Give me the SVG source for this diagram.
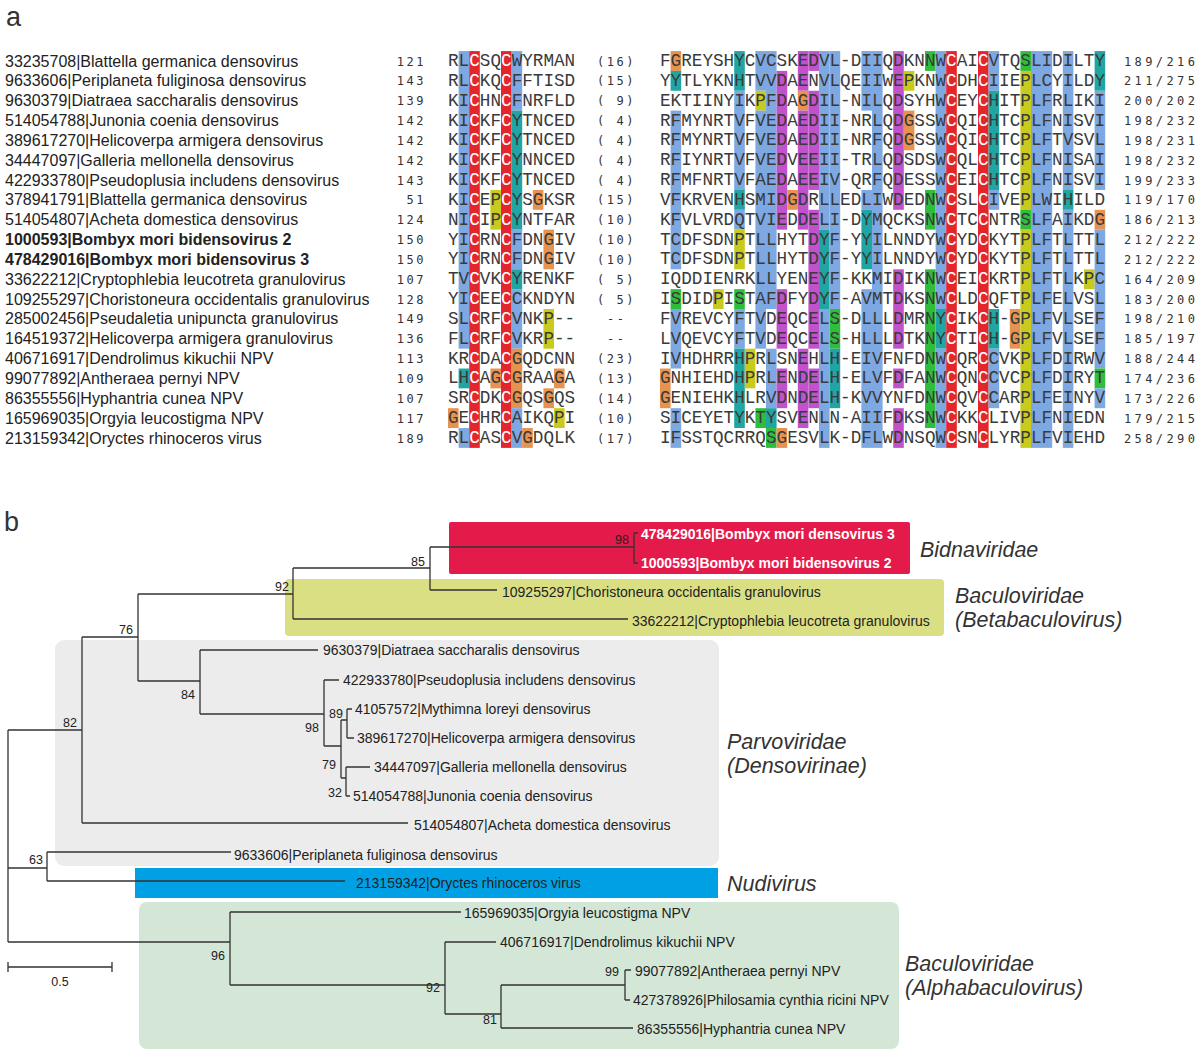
<svg xmlns="http://www.w3.org/2000/svg" width="1200" height="1054" viewBox="0 0 1200 1054">
<style>
.b{fill:#7ea8e2}.r{fill:#e3262b}.m{fill:#c252cc}.g{fill:#2fbe3c}.t{fill:#21a5a3}.o{fill:#e8924f}.y{fill:#c9ca1e}
.nm{font-family:"Liberation Sans",Arial,sans-serif;font-size:16px;fill:#222}
.nb{font-weight:bold}
.sq{font-family:"Liberation Mono","Courier New",monospace;font-size:17.67px;fill:#3a3a3a}
.w{fill:#fff}
.num{font-family:"DejaVu Sans Mono",monospace;font-size:12px;fill:#333;letter-spacing:2.5px}
.end{font-family:"DejaVu Sans Mono",monospace;font-size:12px;fill:#333;letter-spacing:3.4px}
.pl{font-family:"Liberation Sans",Arial,sans-serif;font-size:27px;fill:#333}
.lf{font-family:"Liberation Sans",Arial,sans-serif;font-size:14px;fill:#222}
.lw{font-family:"Liberation Sans",Arial,sans-serif;font-size:14px;fill:#fff;font-weight:bold}
.bs{font-family:"Liberation Sans",Arial,sans-serif;font-size:12.5px;fill:#222;text-anchor:middle}
.cl{font-family:"Liberation Sans",Arial,sans-serif;font-size:21.5px;fill:#333;font-style:italic}
.ln{fill:none;stroke:#333;stroke-width:1.3}
</style>
<text class="pl" x="6" y="26">a</text>
<text class="pl" x="4" y="531">b</text>

<g id="block1-highlights" transform="translate(448,51.08) scale(10.6,19.84)">
<rect class="o" x="0" y="18" width="1" height="1"/>
<rect class="b" x="1" y="0" width="1" height="15"/>
<rect class="t" x="1" y="16" width="1" height="1"/>
<rect class="b" x="1" y="19" width="1" height="1"/>
<rect class="r" x="2" y="0" width="1" height="20"/>
<rect class="y" x="4" y="7" width="1" height="2"/>
<rect class="o" x="4" y="16" width="1" height="1"/>
<rect class="r" x="5" y="0" width="1" height="20"/>
<rect class="b" x="6" y="0" width="1" height="3"/>
<rect class="t" x="6" y="3" width="1" height="6"/>
<rect class="b" x="6" y="9" width="1" height="2"/>
<rect class="t" x="6" y="11" width="1" height="1"/>
<rect class="b" x="6" y="12" width="1" height="3"/>
<rect class="o" x="6" y="15" width="1" height="3"/>
<rect class="b" x="6" y="18" width="1" height="2"/>
<rect class="o" x="7" y="19" width="1" height="1"/>
<rect class="o" x="8" y="7" width="1" height="1"/>
<rect class="o" x="9" y="9" width="1" height="2"/>
<rect class="y" x="9" y="13" width="1" height="2"/>
<rect class="o" x="9" y="17" width="1" height="1"/>
<rect class="o" x="10" y="16" width="1" height="1"/>
<rect class="y" x="10" y="18" width="1" height="1"/>
</g>

<g id="block2-highlights" transform="translate(660,51.08) scale(10.6,19.84)">
<rect class="o" x="0" y="16" width="1" height="2"/>
<rect class="o" x="1" y="0" width="1" height="1"/>
<rect class="t" x="1" y="1" width="1" height="1"/>
<rect class="b" x="1" y="3" width="1" height="8"/>
<rect class="g" x="1" y="12" width="1" height="1"/>
<rect class="b" x="1" y="13" width="1" height="3"/>
<rect class="b" x="1" y="18" width="1" height="2"/>
<rect class="y" x="5" y="12" width="1" height="1"/>
<rect class="t" x="7" y="0" width="1" height="2"/>
<rect class="b" x="7" y="2" width="1" height="5"/>
<rect class="t" x="7" y="7" width="1" height="1"/>
<rect class="b" x="7" y="8" width="1" height="1"/>
<rect class="y" x="7" y="9" width="1" height="2"/>
<rect class="g" x="7" y="12" width="1" height="1"/>
<rect class="b" x="7" y="13" width="1" height="2"/>
<rect class="t" x="7" y="15" width="1" height="4"/>
<rect class="y" x="8" y="15" width="1" height="2"/>
<rect class="b" x="9" y="0" width="1" height="2"/>
<rect class="y" x="9" y="2" width="1" height="1"/>
<rect class="b" x="9" y="3" width="1" height="12"/>
<rect class="g" x="9" y="18" width="1" height="1"/>
<rect class="b" x="10" y="0" width="1" height="13"/>
<rect class="b" x="10" y="15" width="1" height="3"/>
<rect class="t" x="10" y="18" width="1" height="1"/>
<rect class="g" x="10" y="19" width="1" height="1"/>
<rect class="m" x="11" y="1" width="1" height="8"/>
<rect class="m" x="11" y="12" width="1" height="3"/>
<rect class="m" x="11" y="16" width="1" height="2"/>
<rect class="o" x="11" y="19" width="1" height="1"/>
<rect class="o" x="12" y="7" width="1" height="1"/>
<rect class="m" x="13" y="0" width="1" height="2"/>
<rect class="o" x="13" y="2" width="1" height="1"/>
<rect class="m" x="13" y="3" width="1" height="6"/>
<rect class="m" x="13" y="15" width="1" height="4"/>
<rect class="m" x="14" y="0" width="1" height="1"/>
<rect class="m" x="14" y="2" width="1" height="5"/>
<rect class="m" x="14" y="8" width="1" height="7"/>
<rect class="m" x="14" y="16" width="1" height="2"/>
<rect class="b" x="15" y="0" width="1" height="9"/>
<rect class="t" x="15" y="9" width="1" height="4"/>
<rect class="b" x="15" y="13" width="1" height="7"/>
<rect class="b" x="16" y="0" width="1" height="13"/>
<rect class="g" x="16" y="13" width="1" height="2"/>
<rect class="t" x="16" y="15" width="1" height="3"/>
<rect class="b" x="19" y="0" width="1" height="3"/>
<rect class="b" x="19" y="7" width="1" height="1"/>
<rect class="t" x="19" y="8" width="1" height="3"/>
<rect class="b" x="19" y="12" width="1" height="8"/>
<rect class="b" x="20" y="0" width="1" height="20"/>
<rect class="m" x="22" y="0" width="1" height="8"/>
<rect class="m" x="22" y="11" width="1" height="4"/>
<rect class="m" x="22" y="16" width="1" height="1"/>
<rect class="m" x="22" y="18" width="1" height="2"/>
<rect class="y" x="23" y="1" width="1" height="1"/>
<rect class="o" x="23" y="3" width="1" height="2"/>
<rect class="g" x="25" y="0" width="1" height="1"/>
<rect class="g" x="25" y="7" width="1" height="2"/>
<rect class="g" x="25" y="11" width="1" height="8"/>
<rect class="b" x="26" y="0" width="1" height="13"/>
<rect class="t" x="26" y="13" width="1" height="2"/>
<rect class="b" x="26" y="15" width="1" height="5"/>
<rect class="r" x="27" y="0" width="1" height="20"/>
<rect class="r" x="30" y="0" width="1" height="20"/>
<rect class="b" x="31" y="0" width="1" height="2"/>
<rect class="t" x="31" y="2" width="1" height="5"/>
<rect class="b" x="31" y="7" width="1" height="1"/>
<rect class="t" x="31" y="13" width="1" height="2"/>
<rect class="b" x="31" y="15" width="1" height="3"/>
<rect class="o" x="33" y="13" width="1" height="2"/>
<rect class="g" x="34" y="0" width="1" height="1"/>
<rect class="y" x="34" y="1" width="1" height="7"/>
<rect class="g" x="34" y="8" width="1" height="1"/>
<rect class="y" x="34" y="9" width="1" height="11"/>
<rect class="b" x="35" y="0" width="2" height="20"/>
<rect class="b" x="38" y="0" width="1" height="7"/>
<rect class="t" x="38" y="7" width="1" height="1"/>
<rect class="b" x="38" y="8" width="1" height="12"/>
<rect class="y" x="40" y="11" width="1" height="1"/>
<rect class="t" x="41" y="0" width="1" height="2"/>
<rect class="b" x="41" y="2" width="1" height="5"/>
<rect class="o" x="41" y="8" width="1" height="1"/>
<rect class="b" x="41" y="9" width="1" height="7"/>
<rect class="g" x="41" y="16" width="1" height="1"/>
<rect class="b" x="41" y="17" width="1" height="1"/>
</g>

<g id="alignment-names">
<text class="nm" x="5" y="66.5">33235708|Blattella germanica densovirus</text>
<text class="nm" x="5" y="86.3">9633606|Periplaneta fuliginosa densovirus</text>
<text class="nm" x="5" y="106.2">9630379|Diatraea saccharalis densovirus</text>
<text class="nm" x="5" y="126">514054788|Junonia coenia densovirus</text>
<text class="nm" x="5" y="145.9">389617270|Helicoverpa armigera densovirus</text>
<text class="nm" x="5" y="165.7">34447097|Galleria mellonella densovirus</text>
<text class="nm" x="5" y="185.5">422933780|Pseudoplusia includens densovirus</text>
<text class="nm" x="5" y="205.4">378941791|Blattella germanica densovirus</text>
<text class="nm" x="5" y="225.2">514054807|Acheta domestica densovirus</text>
<text class="nm nb" x="5" y="245.1">1000593|Bombyx mori bidensovirus 2</text>
<text class="nm nb" x="5" y="264.9">478429016|Bombyx mori bidensovirus 3</text>
<text class="nm" x="5" y="284.7">33622212|Cryptophlebia leucotreta granulovirus</text>
<text class="nm" x="5" y="304.6">109255297|Choristoneura occidentalis granulovirus</text>
<text class="nm" x="5" y="324.4">285002456|Pseudaletia unipuncta granulovirus</text>
<text class="nm" x="5" y="344.3">164519372|Helicoverpa armigera granulovirus</text>
<text class="nm" x="5" y="364.1">406716917|Dendrolimus kikuchii NPV</text>
<text class="nm" x="5" y="383.9">99077892|Antheraea pernyi NPV</text>
<text class="nm" x="5" y="403.8">86355556|Hyphantria cunea NPV</text>
<text class="nm" x="5" y="423.6">165969035|Orgyia leucostigma NPV</text>
<text class="nm" x="5" y="443.5">213159342|Oryctes rhinoceros virus</text>
</g>

<g id="alignment-start" text-anchor="end">
<text class="num" x="426" y="65.5">121</text>
<text class="num" x="426" y="85.3">143</text>
<text class="num" x="426" y="105.2">139</text>
<text class="num" x="426" y="125">142</text>
<text class="num" x="426" y="144.9">142</text>
<text class="num" x="426" y="164.7">142</text>
<text class="num" x="426" y="184.5">143</text>
<text class="num" x="426" y="204.4">51</text>
<text class="num" x="426" y="224.2">124</text>
<text class="num" x="426" y="244.1">150</text>
<text class="num" x="426" y="263.9">150</text>
<text class="num" x="426" y="283.7">107</text>
<text class="num" x="426" y="303.6">128</text>
<text class="num" x="426" y="323.4">149</text>
<text class="num" x="426" y="343.3">136</text>
<text class="num" x="426" y="363.1">113</text>
<text class="num" x="426" y="382.9">109</text>
<text class="num" x="426" y="402.8">107</text>
<text class="num" x="426" y="422.6">117</text>
<text class="num" x="426" y="442.5">189</text>
</g>

<g id="alignment-block1">
<text class="sq" x="448" y="66">RL<tspan class="w">C</tspan>SQ<tspan class="w">C</tspan>WYRMAN</text>
<text class="sq" x="448" y="85.8">RL<tspan class="w">C</tspan>KQ<tspan class="w">C</tspan>FFTISD</text>
<text class="sq" x="448" y="105.7">KI<tspan class="w">C</tspan>HN<tspan class="w">C</tspan>FNRFLD</text>
<text class="sq" x="448" y="125.5">KI<tspan class="w">C</tspan>KF<tspan class="w">C</tspan>YTNCED</text>
<text class="sq" x="448" y="145.4">KI<tspan class="w">C</tspan>KF<tspan class="w">C</tspan>YTNCED</text>
<text class="sq" x="448" y="165.2">KI<tspan class="w">C</tspan>KF<tspan class="w">C</tspan>YNNCED</text>
<text class="sq" x="448" y="185">KI<tspan class="w">C</tspan>KF<tspan class="w">C</tspan>YTNCED</text>
<text class="sq" x="448" y="204.9">KI<tspan class="w">C</tspan>EP<tspan class="w">C</tspan>YSGKSR</text>
<text class="sq" x="448" y="224.7">NI<tspan class="w">C</tspan>IP<tspan class="w">C</tspan>YNTFAR</text>
<text class="sq" x="448" y="244.6">YI<tspan class="w">C</tspan>RN<tspan class="w">C</tspan>FDNGIV</text>
<text class="sq" x="448" y="264.4">YI<tspan class="w">C</tspan>RN<tspan class="w">C</tspan>FDNGIV</text>
<text class="sq" x="448" y="284.2">TV<tspan class="w">C</tspan>VK<tspan class="w">C</tspan>YRENKF</text>
<text class="sq" x="448" y="304.1">YI<tspan class="w">C</tspan>EE<tspan class="w">C</tspan>CKNDYN</text>
<text class="sq" x="448" y="323.9">SL<tspan class="w">C</tspan>RF<tspan class="w">C</tspan>VNKP--</text>
<text class="sq" x="448" y="343.8">FL<tspan class="w">C</tspan>RF<tspan class="w">C</tspan>VKRP--</text>
<text class="sq" x="448" y="363.6">KR<tspan class="w">C</tspan>DA<tspan class="w">C</tspan>GQDCNN</text>
<text class="sq" x="448" y="383.4">LH<tspan class="w">C</tspan>AG<tspan class="w">C</tspan>GRAAGA</text>
<text class="sq" x="448" y="403.3">SR<tspan class="w">C</tspan>DK<tspan class="w">C</tspan>GQSGQS</text>
<text class="sq" x="448" y="423.1">GE<tspan class="w">C</tspan>HR<tspan class="w">C</tspan>AIKQPI</text>
<text class="sq" x="448" y="443">RL<tspan class="w">C</tspan>AS<tspan class="w">C</tspan>VGDQLK</text>
</g>

<g id="alignment-gaps">
<text class="num" x="597" y="65.5">(16)</text>
<text class="num" x="597" y="85.3">(15)</text>
<text class="num" x="597" y="105.2">( 9)</text>
<text class="num" x="597" y="125">( 4)</text>
<text class="num" x="597" y="144.9">( 4)</text>
<text class="num" x="597" y="164.7">( 4)</text>
<text class="num" x="597" y="184.5">( 4)</text>
<text class="num" x="597" y="204.4">(15)</text>
<text class="num" x="597" y="224.2">(10)</text>
<text class="num" x="597" y="244.1">(10)</text>
<text class="num" x="597" y="263.9">(10)</text>
<text class="num" x="597" y="283.7">( 5)</text>
<text class="num" x="597" y="303.6">( 5)</text>
<text class="num" x="607" y="323.4">--</text>
<text class="num" x="607" y="343.3">--</text>
<text class="num" x="597" y="363.1">(23)</text>
<text class="num" x="597" y="382.9">(13)</text>
<text class="num" x="597" y="402.8">(14)</text>
<text class="num" x="597" y="422.6">(10)</text>
<text class="num" x="597" y="442.5">(17)</text>
</g>

<g id="alignment-block2">
<text class="sq" x="660" y="66">FGREYSHYCVCSKEDVL-DIIQDKNNW<tspan class="w">C</tspan>AI<tspan class="w">C</tspan>VTQSLIDILTY</text>
<text class="sq" x="660" y="85.8">YYTLYKNHTVVDAENVLQEIIWEPKNW<tspan class="w">C</tspan>DH<tspan class="w">C</tspan>IIEPLCYILDY</text>
<text class="sq" x="660" y="105.7">EKTIINYIKPFDAGDIL-NILQDSYHW<tspan class="w">C</tspan>EY<tspan class="w">C</tspan>HITPLFRLIKI</text>
<text class="sq" x="660" y="125.5">RFMYNRTVFVEDAEDII-NRLQDGSSW<tspan class="w">C</tspan>QI<tspan class="w">C</tspan>HTCPLFNISVI</text>
<text class="sq" x="660" y="145.4">RFMYNRTVFVEDAEDII-NRFQDGSSW<tspan class="w">C</tspan>QI<tspan class="w">C</tspan>HTCPLFTVSVL</text>
<text class="sq" x="660" y="165.2">RFIYNRTVFVEDVEEII-TRLQDSDSW<tspan class="w">C</tspan>QL<tspan class="w">C</tspan>HTCPLFNISAI</text>
<text class="sq" x="660" y="185">RFMFNRTVFAEDAEEIV-QRFQDESSW<tspan class="w">C</tspan>EI<tspan class="w">C</tspan>HTCPLFNISVI</text>
<text class="sq" x="660" y="204.9">VFKRVENHSMIDGDRLLEDLIWDEDNW<tspan class="w">C</tspan>SL<tspan class="w">C</tspan>IVEPLWIHILD</text>
<text class="sq" x="660" y="224.7">KFVLVRDQTVIEDDELI-DYMQCKSNW<tspan class="w">C</tspan>TC<tspan class="w">C</tspan>NTRSLFAIKDG</text>
<text class="sq" x="660" y="244.6">TCDFSDNPTLLHYTDYF-YYILNNDYW<tspan class="w">C</tspan>YD<tspan class="w">C</tspan>KYTPLFTLTTL</text>
<text class="sq" x="660" y="264.4">TCDFSDNPTLLHYTDYF-YYILNNDYW<tspan class="w">C</tspan>YD<tspan class="w">C</tspan>KYTPLFTLTTL</text>
<text class="sq" x="660" y="284.2">IQDDIENRKLLYENEYF-KKMIDIKNW<tspan class="w">C</tspan>EI<tspan class="w">C</tspan>KRTPLFTLKPC</text>
<text class="sq" x="660" y="304.1">ISDIDPISTAFDFYDYF-AVMTDKSNW<tspan class="w">C</tspan>LD<tspan class="w">C</tspan>QFTPLFELVSL</text>
<text class="sq" x="660" y="323.9">FVREVCYFTVDEQCELS-DLLLDMRNY<tspan class="w">C</tspan>IK<tspan class="w">C</tspan>H-GPLFVLSEF</text>
<text class="sq" x="660" y="343.8">LVQEVCYFTVDEQCELS-HLLLDTKNY<tspan class="w">C</tspan>TI<tspan class="w">C</tspan>H-GPLFVLSEF</text>
<text class="sq" x="660" y="363.6">IVHDHRRHPRLSNEHLH-EIVFNFDNW<tspan class="w">C</tspan>QR<tspan class="w">C</tspan>CVKPLFDIRWV</text>
<text class="sq" x="660" y="383.4">GNHIEHDHPRLENDELH-ELVFDFANW<tspan class="w">C</tspan>QN<tspan class="w">C</tspan>CVCPLFDIRYT</text>
<text class="sq" x="660" y="403.3">GENIEHKHLRVDNDELH-KVVYNFDNW<tspan class="w">C</tspan>QV<tspan class="w">C</tspan>CARPLFEINYV</text>
<text class="sq" x="660" y="423.1">SICEYETYKTYSVENLN-AIIFDKSNW<tspan class="w">C</tspan>KK<tspan class="w">C</tspan>LIVPLFNIEDN</text>
<text class="sq" x="660" y="443">IFSSTQCRRQSGESVLK-DFLWDNSQW<tspan class="w">C</tspan>SN<tspan class="w">C</tspan>LYRPLFVIEHD</text>
</g>

<g id="alignment-end">
<text class="end" x="1124" y="65.5">189/216</text>
<text class="end" x="1124" y="85.3">211/275</text>
<text class="end" x="1124" y="105.2">200/202</text>
<text class="end" x="1124" y="125">198/232</text>
<text class="end" x="1124" y="144.9">198/231</text>
<text class="end" x="1124" y="164.7">198/232</text>
<text class="end" x="1124" y="184.5">199/233</text>
<text class="end" x="1124" y="204.4">119/170</text>
<text class="end" x="1124" y="224.2">186/213</text>
<text class="end" x="1124" y="244.1">212/222</text>
<text class="end" x="1124" y="263.9">212/222</text>
<text class="end" x="1124" y="283.7">164/209</text>
<text class="end" x="1124" y="303.6">183/200</text>
<text class="end" x="1124" y="323.4">198/210</text>
<text class="end" x="1124" y="343.3">185/197</text>
<text class="end" x="1124" y="363.1">188/244</text>
<text class="end" x="1124" y="382.9">174/236</text>
<text class="end" x="1124" y="402.8">173/226</text>
<text class="end" x="1124" y="422.6">179/215</text>
<text class="end" x="1124" y="442.5">258/290</text>
</g>

<g id="clade-boxes">
<rect id="box-bidna" x="449" y="522" width="461" height="52" rx="2" fill="#e41a4b"/>
<rect id="box-beta" x="285" y="579" width="659" height="57" rx="4" fill="#dadf84"/>
<rect id="box-parvo" x="55" y="640" width="664" height="226" rx="9" fill="#ebeceb"/>
<rect id="box-nudi" x="135" y="868" width="583" height="30" fill="#00a1e4"/>
<rect id="box-alpha" x="139" y="902" width="760" height="147" rx="8" fill="#d4e7d7"/>
</g>

<g id="connectors" class="ln">
<path d="M8,730V942M8,730H82M82,637V823M82,823H408M82,637H138M138,594V681M138,594H293M293,568V619M293,619H628M293,568H430M430,547V590M430,590H497M430,547H634M634,533V563M634,533H638M634,563H638"/>
<path d="M138,681H200M200,650V714M200,650H318M200,714H324M324,680V746M324,680H339M324,746H341M341,720V778M341,720H347M347,709V738M347,709H352M347,738H354M341,778H346M346,767V796M346,767H370M346,796H350"/>
<path d="M8,868H47M47,852V881M47,852H231M47,881H345"/>
<path d="M8,942H230M230,912V985M230,912H461M230,985H445M445,942V1014M445,942H496M445,1014H501M501,985V1028M501,985H625M625,970V1000M625,970H631M625,1000H630M501,1028H633"/>
<path d="M8,967H112M8,962V972M112,962V972"/>
</g>

<g id="bootstrap">
<text class="bs" x="622" y="544">98</text>
<text class="bs" x="418" y="566">85</text>
<text class="bs" x="282" y="591">92</text>
<text class="bs" x="126" y="634">76</text>
<text class="bs" x="70" y="727">82</text>
<text class="bs" x="188" y="699">84</text>
<text class="bs" x="312" y="732">98</text>
<text class="bs" x="336" y="718">89</text>
<text class="bs" x="329" y="769">79</text>
<text class="bs" x="335" y="797">32</text>
<text class="bs" x="36" y="864">63</text>
<text class="bs" x="218" y="960">96</text>
<text class="bs" x="433" y="992">92</text>
<text class="bs" x="490" y="1024">81</text>
<text class="bs" x="612" y="976">99</text>
<text class="bs" x="60" y="986">0.5</text>
</g>

<g id="leaves">
<text id="leaf-bm3" class="lw" x="641" y="539">478429016|Bombyx mori densovirus 3</text>
<text id="leaf-bm2" class="lw" x="641" y="568">1000593|Bombyx mori bidensovirus 2</text>
<text class="lf" x="502" y="597">109255297|Choristoneura occidentalis granulovirus</text>
<text class="lf" x="632" y="626">33622212|Cryptophlebia leucotreta granulovirus</text>
<text class="lf" x="323" y="655">9630379|Diatraea saccharalis densovirus</text>
<text class="lf" x="343" y="685">422933780|Pseudoplusia includens densovirus</text>
<text class="lf" x="355" y="714">41057572|Mythimna loreyi densovirus</text>
<text class="lf" x="357" y="743">389617270|Helicoverpa armigera densovirus</text>
<text class="lf" x="374" y="772">34447097|Galleria mellonella densovirus</text>
<text class="lf" x="353" y="801">514054788|Junonia coenia densovirus</text>
<text class="lf" x="414" y="830">514054807|Acheta domestica densovirus</text>
<text class="lf" x="234" y="860">9633606|Periplaneta fuliginosa densovirus</text>
<text class="lf" x="356" y="888">213159342|Oryctes rhinoceros virus</text>
<text class="lf" x="464" y="918">165969035|Orgyia leucostigma NPV</text>
<text class="lf" x="500" y="947">406716917|Dendrolimus kikuchii NPV</text>
<text class="lf" x="635" y="976">99077892|Antheraea pernyi NPV</text>
<text class="lf" x="633" y="1005">427378926|Philosamia cynthia ricini NPV</text>
<text class="lf" x="637" y="1034">86355556|Hyphantria cunea NPV</text>
</g>

<g id="clade-labels">
<text class="cl" x="920" y="557">Bidnaviridae</text>
<text class="cl" x="955" y="603">Baculoviridae</text>
<text class="cl" x="955" y="627">(Betabaculovirus)</text>
<text class="cl" x="727" y="749">Parvoviridae</text>
<text class="cl" x="727" y="773">(Densovirinae)</text>
<text class="cl" x="727" y="891">Nudivirus</text>
<text class="cl" x="905" y="971">Baculoviridae</text>
<text class="cl" x="905" y="995">(Alphabaculovirus)</text>
</g>
</svg>
